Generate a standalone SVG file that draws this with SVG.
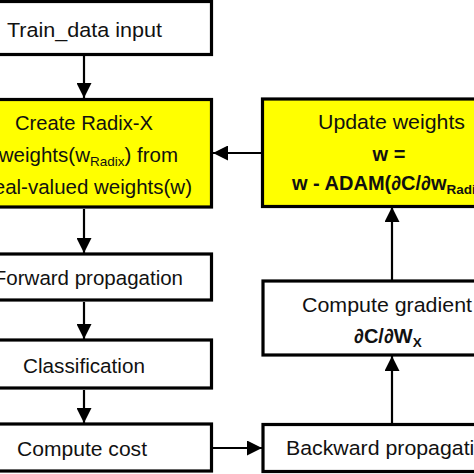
<svg xmlns="http://www.w3.org/2000/svg" width="474" height="474" viewBox="0 0 474 474">
<defs>
<style>
.box{fill:#ffffff;stroke:#000000;stroke-width:3.2}
.yel{fill:#ffff00;stroke:#000000;stroke-width:3.2}
.t{font-family:"Liberation Sans",Arial,sans-serif;font-size:20.5px;fill:#111111}
.b{font-weight:bold;font-size:20px}
.sub{font-size:13.5px}
.c{stroke:#000000;stroke-width:2.2;fill:none;marker-end:url(#ah)}
</style>
<marker id="ah" markerUnits="userSpaceOnUse" markerWidth="16" markerHeight="15" refX="15" refY="7.5" orient="auto">
<path d="M0,0 L15,7.5 L0,15 Z" fill="#000000"/>
</marker>
</defs>
<rect width="474" height="474" fill="#ffffff"/>
<g id="train">
<rect class="box" x="-44" y="1.5" width="255.5" height="53"/>
<text class="t" x="84.5" y="37" text-anchor="middle" textLength="155" lengthAdjust="spacingAndGlyphs">Train_data input</text>
</g>
<g id="create">
<rect class="yel" x="-44" y="99.5" width="255.5" height="107.5"/>
<text class="t" x="84" y="130" text-anchor="middle" textLength="138" lengthAdjust="spacingAndGlyphs">Create Radix-X</text>
<text class="t" x="178" y="162" text-anchor="end">weights(w<tspan class="sub" dy="4">Radix</tspan><tspan dy="-4">) from</tspan></text>
<text class="t" x="192" y="194" text-anchor="end">Real-valued weights(w)</text>
</g>
<g id="forward">
<rect class="box" x="-44" y="254" width="255.5" height="46"/>
<text class="t" x="183" y="285" text-anchor="end">Forward propagation</text>
</g>
<g id="classification">
<rect class="box" x="-44" y="340" width="255.5" height="48"/>
<text class="t" x="84" y="373" text-anchor="middle" textLength="122" lengthAdjust="spacingAndGlyphs">Classification</text>
</g>
<g id="cost">
<rect class="box" x="-44" y="424" width="255.5" height="47"/>
<text class="t" x="82" y="456" text-anchor="middle" textLength="130" lengthAdjust="spacingAndGlyphs">Compute cost</text>
</g>
<g id="update">
<rect class="yel" x="262.5" y="99" width="260" height="107.5"/>
<text class="t" x="318" y="129" textLength="147" lengthAdjust="spacingAndGlyphs">Update weights</text>
<text class="t b" x="389" y="161" text-anchor="middle">w =</text>
<text class="t b" x="292" y="190">w - ADAM(∂C/∂w<tspan class="sub" dy="4">Radix</tspan><tspan dy="-4">)</tspan></text>
</g>
<g id="gradient">
<rect class="box" x="263" y="281" width="260" height="74"/>
<text class="t" x="302" y="312" textLength="170" lengthAdjust="spacingAndGlyphs">Compute gradient</text>
<text class="t b" x="354" y="343">∂C/∂W<tspan class="sub" dy="4">X</tspan></text>
</g>
<g id="backward">
<rect class="box" x="263" y="424.5" width="260" height="47"/>
<text class="t" x="286" y="455" textLength="212" lengthAdjust="spacingAndGlyphs">Backward propagation</text>
</g>
<g id="connectors">
<line class="c" x1="84" y1="56" x2="84" y2="98"/>
<line class="c" x1="84" y1="209" x2="84" y2="253"/>
<line class="c" x1="84" y1="302" x2="84" y2="339"/>
<line class="c" x1="84" y1="390" x2="84" y2="423"/>
<line class="c" x1="213" y1="448" x2="262" y2="448"/>
<line class="c" x1="392" y1="423" x2="392" y2="356"/>
<line class="c" x1="392" y1="280" x2="392" y2="207"/>
<line class="c" x1="261" y1="153" x2="213" y2="153"/>
</g>
</svg>
